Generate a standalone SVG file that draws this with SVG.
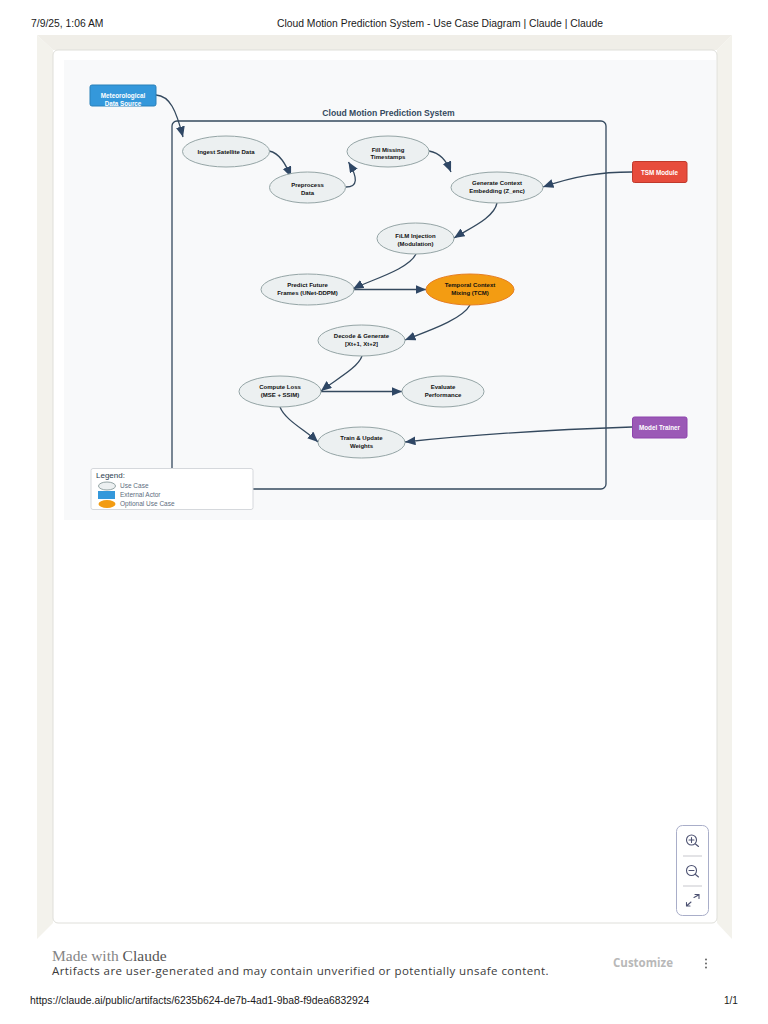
<svg xmlns="http://www.w3.org/2000/svg" width="768" height="1024" viewBox="0 0 768 1024">
<style>
text{font-family:"Liberation Sans",Arial,sans-serif}
.uc{fill:#ecf0f1;stroke:#95a5a6;stroke-width:1}
.lbl{font-size:6px;font-weight:700;fill:#111;text-anchor:middle}
.act{font-size:6.3px;font-weight:700;fill:#fff;text-anchor:middle}
.edge{fill:none;stroke:#34495e;stroke-width:1.3;marker-end:url(#arr)}
.leg{font-size:6.500px;fill:#5d6d7e}
.ico{fill:none;stroke:#4d5272;stroke-width:1.1;stroke-linecap:round}
.hdr{font-size:10.350px;fill:#1a1a1a}
</style>
<defs>
<marker id="arr" markerUnits="userSpaceOnUse" markerWidth="12" markerHeight="10" refX="10.500" refY="4.500" orient="auto">
<path d="M0,0L10.500,4.500L0,9z" fill="#2f4765"/>
</marker>
</defs>
<rect width="768" height="1024" fill="#fff"/>
<g id="page-chrome">
<text class="hdr" x="31" y="27">7/9/25, 1:06 AM</text>
<text class="hdr" x="440" y="27" text-anchor="middle">Cloud Motion Prediction System - Use Case Diagram | Claude | Claude</text>
<polygon points="37,35 732,35 717,50 53,50" fill="#f0eee8"/>
<polygon points="37,35 53,50 53,923 37,939" fill="#f3f2ec"/>
<polygon points="732,35 717,50 717,923 732,939" fill="#f3f2ec"/>
<rect x="53" y="50" width="664" height="873" rx="5" fill="#fff" stroke="#dfdfda" stroke-width="1"/>
<rect x="64" y="60" width="652" height="460" fill="#f8f9fa"/>
</g>
<g id="system">
<rect x="172" y="121" width="434" height="368" rx="5" fill="#f8f9fa" stroke="#34495e" stroke-width="1.300"/>
<text x="388.500" y="115.500" text-anchor="middle" font-size="8.600" font-weight="700" fill="#34495e">Cloud Motion Prediction System</text>
</g>
<g id="connectors">
<path class="edge" d="M156,95C170,96 176,110 183,137"/>
<path class="edge" d="M269,151C280,153 286,165 291,177"/>
<path class="edge" d="M346,187C358,187 358,178 348.500,162"/>
<path class="edge" d="M429,151C440,153 446,160 451,172"/>
<path class="edge" d="M632,172C600,172 575,176 543,187"/>
<path class="edge" d="M497,203C494,218 470,228 454,238"/>
<path class="edge" d="M416,254C408,270 370,280 353,289"/>
<path class="edge" d="M353,289.500L426,289.500"/>
<path class="edge" d="M470,305C462,320 425,332 405,340"/>
<path class="edge" d="M362,356C358,368 335,380 321,391"/>
<path class="edge" d="M321,391.500L402,391.500"/>
<path class="edge" d="M280,407C285,420 305,430 318,442"/>
<path class="edge" d="M632,427C570,429 480,434 405,442"/>
</g>
<g id="meteo"><rect x="90" y="85" width="66" height="21" rx="2" fill="#3498db" stroke="#2980b9"/><text class="act" x="123" y="98">Meteorological</text><text class="act" x="123" y="105.500">Data Source</text></g>
<g id="tsm"><rect x="632.500" y="161.500" width="54.500" height="21" rx="2" fill="#e74c3c" stroke="#c0392b"/><text class="act" x="659.500" y="174.500">TSM Module</text></g>
<g id="trainer"><rect x="632.500" y="417" width="54.500" height="21" rx="2" fill="#9b59b6" stroke="#8e44ad"/><text class="act" x="659.500" y="429.500">Model Trainer</text></g>
<g id="ingest"><ellipse class="uc" cx="226" cy="151.500" rx="43.500" ry="15.500"/><text class="lbl" x="226" y="154">Ingest Satellite Data</text></g>
<g id="preprocess"><ellipse class="uc" cx="307.500" cy="187.500" rx="38" ry="15.500"/><text class="lbl" x="307.500" y="186.500">Preprocess</text><text class="lbl" x="307.500" y="195">Data</text></g>
<g id="fill"><ellipse class="uc" cx="388" cy="151.500" rx="41" ry="15.500"/><text class="lbl" x="388" y="151.500">Fill Missing</text><text class="lbl" x="388" y="159">Timestamps</text></g>
<g id="generate"><ellipse class="uc" cx="497" cy="187.500" rx="46" ry="15.500"/><text class="lbl" x="497" y="185">Generate Context</text><text class="lbl" x="497" y="192.500">Embedding (Z_enc)</text></g>
<g id="film"><ellipse class="uc" cx="415.500" cy="238.500" rx="38.500" ry="15.500"/><text class="lbl" x="415.500" y="238">FiLM Injection</text><text class="lbl" x="415.500" y="246">(Modulation)</text></g>
<g id="predict"><ellipse class="uc" cx="307.500" cy="289.500" rx="46.500" ry="15.500"/><text class="lbl" x="307.500" y="287">Predict Future</text><text class="lbl" x="307.500" y="294.500">Frames (UNet-DDPM)</text></g>
<g id="tcm"><ellipse cx="470" cy="289.500" rx="44" ry="15.500" fill="#f39c12" stroke="#e67e22"/><text class="lbl" x="470" y="287">Temporal Context</text><text class="lbl" x="470" y="294.500">Mixing (TCM)</text></g>
<g id="decode"><ellipse class="uc" cx="361.500" cy="340.500" rx="43.500" ry="15.500"/><text class="lbl" x="361.500" y="338">Decode &amp; Generate</text><text class="lbl" x="361.500" y="345.500">[Xt+1, Xt+2]</text></g>
<g id="compute"><ellipse class="uc" cx="280" cy="391.500" rx="41" ry="15.500"/><text class="lbl" x="280" y="388.500">Compute Loss</text><text class="lbl" x="280" y="396.500">(MSE + SSIM)</text></g>
<g id="evaluate"><ellipse class="uc" cx="443" cy="391.500" rx="41" ry="15.500"/><text class="lbl" x="443" y="388.500">Evaluate</text><text class="lbl" x="443" y="396.500">Performance</text></g>
<g id="train"><ellipse class="uc" cx="361.500" cy="442.500" rx="43.500" ry="15.500"/><text class="lbl" x="361.500" y="440">Train &amp; Update</text><text class="lbl" x="361.500" y="447.500">Weights</text></g>
<g id="legend">
<rect x="91" y="468.500" width="162" height="41" rx="2" fill="#fff" stroke="#d5d8dc"/>
<text x="96" y="477.500" font-size="8" fill="#2c3e50">Legend:</text>
<ellipse class="uc" cx="107" cy="486" rx="8.500" ry="4"/><text class="leg" x="120" y="488">Use Case</text>
<rect x="98" y="491" width="17" height="8" fill="#3498db"/><text class="leg" x="120" y="496.500">External Actor</text>
<ellipse cx="107" cy="504" rx="8.500" ry="4" fill="#f39c12"/><text class="leg" x="120" y="506">Optional Use Case</text>
</g>
<g id="zoom-controls">
<rect x="676.500" y="825.500" width="32" height="90" rx="6" fill="#fff" stroke="#a9aec9"/>
<path d="M683,856H702M683,886H702" stroke="#b9b9c0" stroke-width=".8"/>
<g class="ico"><circle cx="691.500" cy="840" r="5"/><path d="M695.500,844L698.500,846.500M689,840H694M691.500,837.500V842.500"/>
<circle cx="691.500" cy="870.500" r="5"/><path d="M695.500,874.500L698.500,877M689,870.500H694"/>
<path d="M694,897.500L698.500,895M695,894.500H699V898.500M691,902L686.500,906M686.500,902.500V906H690"/></g>
</g>
<g id="footer">
<text x="52" y="961" font-size="15.500" style="font-family:'Liberation Serif',serif" fill="#858585">Made with <tspan fill="#555">Claude</tspan></text>
<text x="52" y="975" font-size="11.500" style="font-family:'Open Sans',sans-serif;letter-spacing:.43px" fill="#3a3a3a">Artifacts are user-generated and may contain unverified or potentially unsafe content.</text>
<text x="613" y="967" font-size="11.500" font-weight="700" style="font-family:'Open Sans',sans-serif" fill="#b8b8b8">Customize</text>
<g fill="#555"><circle cx="706" cy="959.500" r=".9"/><circle cx="706" cy="963.500" r=".9"/><circle cx="706" cy="967.500" r=".9"/></g>
<text x="30" y="1004" font-size="10.350" fill="#1a1a1a">https://claude.ai/public/artifacts/6235b624-de7b-4ad1-9ba8-f9dea6832924</text>
<text x="724" y="1004" font-size="10" fill="#1a1a1a">1/1</text>
</g>
</svg>
